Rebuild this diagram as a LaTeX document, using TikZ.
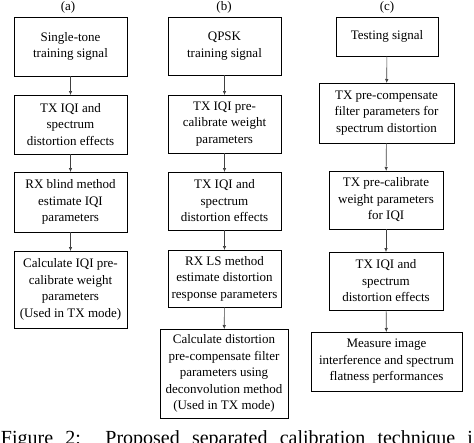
\documentclass[tikz,border=0pt]{standalone}
\usepackage{fontspec}
\setmainfont{Liberation Serif}
\usetikzlibrary{arrows.meta}

\begin{document}
\begin{tikzpicture}[x=1pt, y=-1pt,
  every node/.style={font=\fontsize{13}{16.5}\selectfont, align=center, inner sep=0pt, outer sep=0pt},
  stepbox/.style={draw, line width=0.8pt, minimum width=113pt, minimum height=58pt},
  flow/.style={-{Latex[length=4pt,width=3.5pt]}, line width=0.6pt, black!75}]
\useasboundingbox (0,0) rectangle (474,442);

% column (a)
\node (la) at (68,7) {(a)};
\node[stepbox, minimum height=59pt] (a1) at (70.5,46.5) {Single-tone\\training signal};
\node[stepbox, minimum height=59pt] (a2) at (70.5,124.5) {TX IQI and\\spectrum\\distortion effects};
\node[stepbox, minimum height=60pt] (a3) at (70.5,202) {RX blind method\\estimate IQI\\parameters};
\node[stepbox, minimum height=77pt] (a4) at (70.5,289.5) {Calculate IQI pre-\\calibrate weight\\parameters\\(Used in TX mode)};

% column (b)
\node (lb) at (224,7) {(b)};
\node[stepbox] (b1) at (224.5,46) {QPSK\\training signal};
\node[stepbox] (b2) at (224.5,124) {TX IQI pre-\\calibrate weight\\parameters};
\node[stepbox] (b3) at (224.5,201) {TX IQI and\\spectrum\\distortion effects};
\node[stepbox, minimum height=57pt] (b4) at (224.5,278.5) {RX LS method\\estimate distortion\\response parameters};
\node[stepbox, minimum width=128pt, minimum height=89pt] (b5) at (224,373.5) {Calculate distortion\\pre-compensate filter\\parameters using\\deconvolution method\\(Used in TX mode)};

% column (c)
\node (lc) at (387,7) {(c)};
\node[stepbox, minimum width=102pt, minimum height=39pt] (c1) at (387,36.5) {Testing signal};
\node[stepbox, minimum width=135pt, minimum height=60pt] (c2) at (386.5,113) {TX pre-compensate\\filter parameters for\\spectrum distortion};
\node[stepbox, minimum width=114pt] (c3) at (386,200) {TX pre-calibrate\\weight parameters\\for IQI};
\node[stepbox, minimum width=114pt] (c4) at (386,281) {TX IQI and\\spectrum\\distortion effects};
\node[stepbox, minimum width=151pt, minimum height=59pt] (c5) at (386.5,361.5) {Measure image\\interference and spectrum\\flatness performances};

\draw[flow] (a1) -- (a2);
\draw[flow] (a2) -- (a3);
\draw[flow] (a3) -- (a4);
\draw[flow] (b1) -- (b2);
\draw[flow] (b2) -- (b3);
\draw[flow] (b3) -- (b4);
\draw[flow] (b4) -- (b5);
\draw[flow] (c1) -- (c2);
\draw[flow] (c2) -- (c3);
\draw[flow] (c3) -- (c4);
\draw[flow] (c4) -- (c5);

% caption, cut off at the bottom edge
\node[anchor=north west, font=\fontsize{20}{24}\selectfont] (cap) at (1,431) {\makebox[472pt][s]{Figure 2:\ \ Proposed separated calibration technique i}};
\end{tikzpicture}
\end{document}
